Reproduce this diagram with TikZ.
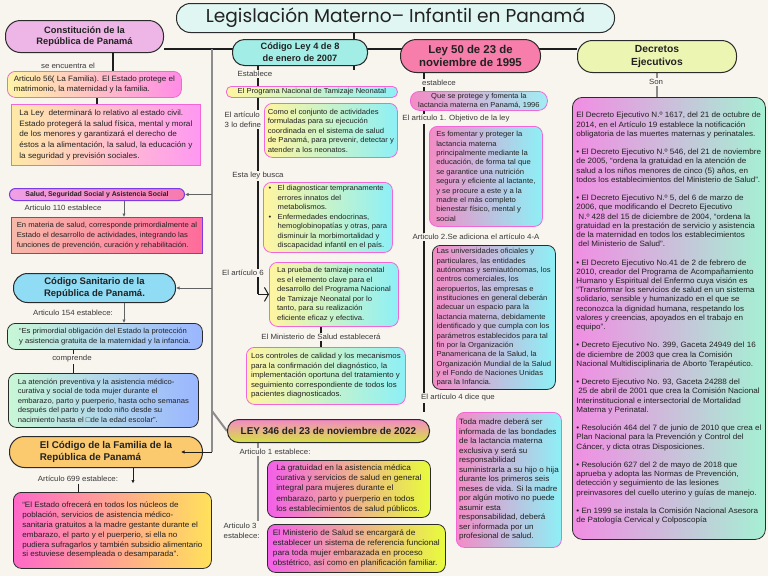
\documentclass[tikz,border=0pt]{standalone}
\usepackage{fontspec}
\setmainfont{Liberation Sans}
\newfontfamily\titulofont{Poppins}
\newfontfamily\cajafont{Liberation Sans}[FakeStretch=1.05]
\newcommand\letra[2]{\cajafont\fontsize{#1}{#2}\selectfont}
\usetikzlibrary{arrows.meta, positioning}

\definecolor{fondo}{HTML}{F8F4EE}
\definecolor{borde}{HTML}{2B2B2B}
\definecolor{texto}{HTML}{222222}
\definecolor{etiq}{HTML}{3A3A3A}
\definecolor{linea}{HTML}{1E1E1E}
\definecolor{lineagris}{HTML}{8C8C8C}
\definecolor{titulo}{HTML}{DFF6F2}
\definecolor{constitucion}{HTML}{EDB6E6}
\definecolor{codigo}{HTML}{A2EEE6}
\definecolor{leycincuenta}{HTML}{F77DAA}
\definecolor{decretos}{HTML}{EDF5B3}
\definecolor{sanitario}{HTML}{8FDCF4}
\definecolor{familia}{HTML}{FBC96E}
\definecolor{amarillo}{HTML}{FFF3A6}
\definecolor{rosa}{HTML}{FF8CE6}
\definecolor{bordeRosa}{HTML}{F266D6}
\definecolor{crema}{HTML}{FFE9A6}
\definecolor{rosaclaro}{HTML}{FF98F2}
\definecolor{lila}{HTML}{F0A0E6}
\definecolor{rosafuerte}{HTML}{F77AAE}
\definecolor{violeta}{HTML}{7A3CE6}
\definecolor{durazno}{HTML}{F7B9A9}
\definecolor{frambuesa}{HTML}{FF6B9B}
\definecolor{menta}{HTML}{C8F7D6}
\definecolor{celeste}{HTML}{9AB6FF}
\definecolor{fucsia}{HTML}{FF68C8}
\definecolor{oro}{HTML}{FFE15A}
\definecolor{limon}{HTML}{FFF5A0}
\definecolor{turquesa}{HTML}{8DF0F6}
\definecolor{magenta}{HTML}{F35FE9}
\definecolor{lima}{HTML}{E8FC3C}
\definecolor{chicle}{HTML}{F38BC6}
\definecolor{aqua}{HTML}{A0EEF4}
\definecolor{orquidea}{HTML}{F28DE3}
\definecolor{verdeagua}{HTML}{A5F0D3}

\pgfdeclarelayer{capafondo}
\pgfdeclarelayer{capalineas}
\pgfsetlayers{capafondo,capalineas,main}

\begin{document}
\begin{tikzpicture}[
    x=1pt, y=-1pt,
    tema/.style={draw=borde, line width=1pt, align=center, inner sep=0pt, anchor=north west, text=texto},
    caja/.style={draw=borde, line width=0.8pt, rounded corners=8pt, align=left, inner sep=0pt, anchor=north west, text=texto, font=\letra{7.3}{9.5}},
    etiqueta/.style={fill=fondo, inner sep=1.5pt, text=etiq, align=left, font=\letra{7.5}{10}},
    negra/.style={draw=linea, line width=1.2pt},
    gris/.style={draw=lineagris, line width=2pt},
    flecha/.style={draw=linea, line width=0.9pt, -{Latex[length=3.5pt,width=3.5pt]}},
    flechagris/.style={draw=lineagris!70!black, line width=0.9pt, -{Latex[length=3.5pt,width=3.5pt]}}
]
\useasboundingbox (0,0) rectangle (768,576);
\begin{pgfonlayer}{capafondo}
  \fill[fondo] (0,0) rectangle (768,576);
\end{pgfonlayer}

% Ejes
\coordinate (barra) at (0,49);
\coordinate (ejeT) at (354,70);
\coordinate (ejeIzq) at (212,0);
\coordinate (codoLey) at (212,411);
\coordinate (ejeC) at (113,0);
\coordinate (ejeLey) at (97,0);
\coordinate (ejeB) at (124,0);
\coordinate (ejeComp) at (73,0);
\coordinate (eje699) at (133,0);
\coordinate (ejeM) at (258,0);
\coordinate (ejeP) at (321,0);
\coordinate (ejeD) at (424,0);

% Temas
\node[tema, fill=titulo, rounded corners=14pt, minimum width=438pt, minimum height=29pt, font=\titulofont\fontsize{18.6}{20}\selectfont] (titulo) at (176,3) {Legislación Materno– Infantil en Panamá};
\node[tema, fill=constitucion, rounded corners=15pt, minimum width=158pt, minimum height=32pt, font=\bfseries\fontsize{9.3}{11}\selectfont] (constitucion) at (5,20) {Constitución de la\\República de Panamá};
\node[tema, fill=codigo, rounded corners=12pt, minimum width=135pt, minimum height=26pt, font=\bfseries\fontsize{9.2}{12}\selectfont] (codigo4) at (232,39) {Código Ley 4 de 8\\de enero de 2007};
\node[tema, fill=leycincuenta, rounded corners=16pt, minimum width=140pt, minimum height=33pt, font=\bfseries\fontsize{11.4}{13}\selectfont] (ley50) at (400,39) {Ley 50 de 23 de\\noviembre de 1995};
\node[tema, fill=decretos, rounded corners=15pt, minimum width=159pt, minimum height=32pt, font=\bfseries\fontsize{10.3}{13}\selectfont] (decretos) at (577,40) {Decretos\\Ejecutivos};

% Columna izquierda
\node[caja, left color=amarillo, right color=rosa, draw=bordeRosa, minimum width=174pt, minimum height=26pt, font=\letra{7.7}{10}] (art56) at (7,71) {Articulo 56( La Familia). El Estado protege el\\matrimonio, la maternidad y la familia.};
\node[caja, sharp corners, left color=crema, right color=rosaclaro, draw=bordeRosa, minimum width=189pt, minimum height=61pt, font=\letra{7.8}{10.8}] (laLey) at (11,104) {La Ley~ determinará lo relativo al estado civil.\\Estado protegerá la salud física, mental y moral\\de los menores y garantizará el derecho de\\éstos a la alimentación, la salud, la educación y\\la seguridad y previsión sociales.};
\node[tema, left color=lila, right color=rosafuerte, draw=violeta, rounded corners=6pt, minimum width=175pt, minimum height=12pt, font=\bfseries\fontsize{6.9}{8}\selectfont] (salud) at (9,188) {Salud, Seguridad Social y Asistencia Social};
\node[caja, sharp corners, left color=durazno, right color=frambuesa, draw=violeta, minimum width=191pt, minimum height=36pt, font=\letra{7.3}{10}] (materia) at (11,217) {En materia de salud, corresponde primordialmente al\\Estado el desarrollo de actividades, integrando las\\funciones de prevención, curación y rehabilitación.};
\node[tema, fill=sanitario, rounded corners=14pt, minimum width=162pt, minimum height=29pt, font=\bfseries\fontsize{9.5}{12}\selectfont] (sanitario) at (13,273) {Código Sanitario de la\\República de Panamá.};
\node[caja, left color=menta, right color=celeste, minimum width=195pt, minimum height=26pt] (primordial) at (7,323) {“Es primordial obligación del Estado la protección\\y asistencia gratuita de la maternidad y la infancia.};
\node[caja, left color=menta, right color=celeste, minimum width=190pt, minimum height=54pt] (atencion) at (8,373) {La atención preventiva y la asistencia médico-\\curativa y social de toda mujer durante el\\embarazo, parto y puerperio, hasta ocho semanas\\después del parto y de todo niño desde su\\nacimiento hasta el □de la edad escolar”.};
\node[tema, fill=familia, rounded corners=15pt, minimum width=193pt, minimum height=31pt, align=left, font=\bfseries\fontsize{9.8}{12}\selectfont] (familia) at (9,436) {El Código de la Familia de la\\República de Panamá};
\node[caja, left color=fucsia, right color=oro, minimum width=198pt, minimum height=76pt, font=\letra{7.7}{9.8}] (estado) at (13,492) {“El Estado ofrecerá en todos los núcleos de\\población, servicios de asistencia médico-\\sanitaria gratuitos a la madre gestante durante el\\embarazo, el parto y el puerperio, si ella no\\pudiera sufragarlos y también subsidio alimentario\\si estuviese desempleada o desamparada”.};

% Columna Ley 4
\node[tema, left color=limon, right color=turquesa, draw=bordeRosa, line width=0.8pt, rounded corners=5pt, minimum width=171pt, minimum height=11pt, font=\letra{7.2}{8}] (programa) at (226,86) {El Programa Nacional de Tamizaje Neonatal};
\node[caja, left color=limon, right color=turquesa, draw=bordeRosa, minimum width=133pt, minimum height=54pt] (como) at (264,103) {Como el conjunto de actividades\\formuladas para su ejecución\\coordinada en el sistema de salud\\de Panamá, para prevenir, detectar y\\atender a los neonatos.};
\node[caja, left color=limon, right color=turquesa, draw=bordeRosa, minimum width=129pt, minimum height=70pt] (busca) at (263,182) {\makebox[9pt][l]{•}El diagnosticar tempranamente\\\hspace*{9pt}errores innatos del\\\hspace*{9pt}metabolismos.\\\makebox[9pt][l]{•}Enfermedades endocrinas,\\\hspace*{9pt}hemoglobinopatías y otras, para\\\hspace*{9pt}disminuir la morbimortalidad y\\\hspace*{9pt}discapacidad infantil en el país.};
\node[caja, left color=limon, right color=turquesa, draw=bordeRosa, minimum width=129pt, minimum height=64pt] (prueba) at (269,262) {La prueba de tamizaje neonatal\\es el elemento clave para el\\desarrollo del Programa Nacional\\de Tamizaje Neonatal por lo\\tanto, para su realización\\eficiente eficaz y efectiva.};
\node[caja, left color=limon, right color=turquesa, draw=bordeRosa, minimum width=159pt, minimum height=57pt, font=\letra{7.5}{9.5}] (controles) at (246,347) {Los controles de calidad y los mecanismos\\para la confirmación del diagnóstico, la\\implementación oportuna del tratamiento y\\seguimiento correspondiente de todos los\\pacientes diagnosticados.};

% Ley 346
\node[tema, top color=rosafuerte!60!lila, bottom color=lima!90!black!95, rounded corners=11pt, minimum width=202pt, minimum height=23pt, font=\bfseries\fontsize{9.9}{12}\selectfont] (ley346) at (227,419) {LEY 346 del 23 de noviembre de 2022};
\node[caja, left color=magenta, right color=lima, minimum width=163pt, minimum height=57pt, font=\letra{7.9}{10.3}] (gratuidad) at (267,460) {La gratuidad en la asistencia médica\\curativa y servicios de salud en general\\integral para mujeres durante el\\embarazo, parto y puerperio en todos\\los establecimientos de salud públicos.};
\node[caja, left color=magenta, right color=lima, minimum width=178pt, minimum height=48pt, font=\letra{7.9}{10}] (ministerio) at (267,524) {El Ministerio de Salud se encargará de\\establecer un sistema de referencia funcional\\para toda mujer embarazada en proceso\\obstétrico, así como en planificación familiar.};

% Columna Ley 50
\node[tema, left color=chicle, right color=aqua, draw=bordeRosa, line width=0.8pt, rounded corners=9pt, minimum width=137pt, minimum height=19pt, font=\letra{7.2}{9}] (protege) at (410,91) {Que se protege y fomenta la\\lactancia materna en Panamá, 1996};
\node[caja, left color=chicle, right color=turquesa, draw=bordeRosa, minimum width=113pt, minimum height=100pt, font=\letra{7.3}{9.4}] (fomentar) at (429,126) {Es fomentar y proteger la\\lactancia materna\\principalmente mediante la\\educación, de forma tal que\\se garantice una nutrición\\segura y eficiente al lactante,\\y se procure a este y a la\\madre el más completo\\bienestar físico, mental y\\social};
\node[caja, left color=chicle, right color=turquesa, minimum width=123pt, minimum height=144pt, font=\letra{7.3}{9.36}] (universidades) at (432,245) {Las universidades oficiales y\\particulares, las entidades\\autónomas y semiautónomas, los\\centros comerciales, los\\aeropuertos, las empresas e\\instituciones en general deberán\\adecuar un espacio para la\\lactancia materna, debidamente\\identificado y que cumpla con los\\parámetros establecidos para tal\\fin por la Organización\\Panamericana de la Salud, la\\Organización Mundial de la Salud\\y el Fondo de Naciones Unidas\\para la Infancia.};
\node[caja, left color=chicle, right color=turquesa, draw=bordeRosa, minimum width=105pt, minimum height=135pt, font=\letra{7.7}{9.5}] (toda) at (456,412) {Toda madre deberá ser\\informada de las bondades\\de la lactancia materna\\exclusiva y será su\\responsabilidad\\suministrarla a su hijo o hija\\durante los primeros seis\\meses de vida. Si la madre\\por algún motivo no puede\\asumir esta\\responsabilidad, deberá\\ser informada por un\\profesional de salud.};

% Decretos
\node[caja, left color=orquidea, right color=verdeagua, rounded corners=10pt, minimum width=193pt, minimum height=442pt, font=\letra{7.7}{9.2}] (lista) at (572,97) {El Decreto Ejecutivo N.º 1617, del 21 de octubre de\\2014, en el Artículo 19 establece la notificación\\obligatoria de las muertes maternas y perinatales.\\[9.2pt]• El Decreto Ejecutivo N.º 546, del 21 de noviembre\\de 2005, “ordena la gratuidad en la atención de\\salud a los niños menores de cinco (5) años, en\\todos los establecimientos del Ministerio de Salud”.\\[9.2pt]• El Decreto Ejecutivo N.º 5, del 6 de marzo de\\2006, que modificando el Decreto Ejecutivo\\\hspace*{2pt}N.º 428 del 15 de diciembre de 2004, “ordena la\\gratuidad en la prestación de servicio y asistencia\\de la maternidad en todos los establecimientos\\\hspace*{2pt}del Ministerio de Salud”.\\[9.2pt]• El Decreto Ejecutivo No.41 de 2 de febrero de\\2010, creador del Programa de Acompañamiento\\Humano y Espiritual del Enfermo cuya visión es\\“Transformar los servicios de salud en un sistema\\solidario, sensible y humanizado en el que se\\reconozca la dignidad humana, respetando los\\valores y creencias, apoyados en el trabajo en\\equipo”.\\[9.2pt]• Decreto Ejecutivo No. 399, Gaceta 24949 del 16\\de diciembre de 2003 que crea la Comisión\\Nacional Multidisciplinaria de Aborto Terapéutico.\\[9.2pt]• Decreto Ejecutivo No. 93, Gaceta 24288 del\\\hspace*{2pt}25 de abril de 2001 que crea la Comisión Nacional\\Interinstitucional e intersectorial de Mortalidad\\Materna y Perinatal.\\[9.2pt]• Resolución 464 del 7 de junio de 2010 que crea el\\Plan Nacional para la Prevención y Control del\\Cáncer, y dicta otras Disposiciones.\\[9.2pt]• Resolución 627 del 2 de mayo de 2018 que\\aprueba y adopta las Normas de Prevención,\\detección y seguimiento de las lesiones\\preinvasores del cuello uterino y guías de manejo.\\[9.2pt]• En 1999 se instala la Comisión Nacional Asesora\\de Patología Cervical y Colposcopía};

% Lineas detras de los nodos
\begin{pgfonlayer}{capalineas}
  \draw[negra] (titulo.south -| ejeT) -- (ejeT);
  \draw[negra] (constitucion.east |- barra) -- (decretos.west |- barra);
  \draw[gris] (barra -| ejeIzq) -- (familia -| ejeIzq);
  \draw[gris] (codoLey) -- (ley346.west);
  \draw[negra] (constitucion.south -| ejeC) -- (art56.north -| ejeC);
  \draw[negra] (art56.south -| ejeLey) -- (laLey.north -| ejeLey);
  \draw[negra, line width=1pt] (primordial.south -| ejeComp) -- (atencion.north -| ejeComp);
  \draw[negra] (codigo4.south -| ejeM) -- (prueba.west -| ejeM);
  \draw[negra] (prueba.south -| ejeP) -- (controles.north -| ejeP);
  \draw[negra] (ley50.south -| ejeD) -- (toda.north -| ejeD);
  \draw[gris, line width=2.5pt] (decretos.south) -- (decretos.south |- lista.north);
\end{pgfonlayer}

% Etiquetas
\node[etiqueta] (etqEncuentra) at (68,66) {se encuentra el};
\node[etiqueta] (etq110) at (63,208) {Articulo 110 establece};
\node[etiqueta] (etq154) at (73,313) {Articulo 154 establece:};
\node[etiqueta] (etqComprende) at (72,359) {comprende};
\node[etiqueta] (etq699) at (78,479) {Artículo 699 establece:};
\node[etiqueta] (etqEstablece) at (255,74) {Establece};
\node[etiqueta, anchor=west] (etqDefine) at (223,119.5) {El artículo\\3 lo define};
\node[etiqueta] (etqBusca) at (258,176) {Esta ley busca};
\node[etiqueta] (etqArt6) at (243,273) {El artículo 6};
\node[etiqueta] (etqMinisterio) at (321,337) {El Ministerio de Salud establecerá};
\node[etiqueta] (etqArt1) at (275,452) {Articulo 1 establece:};
\node[etiqueta, anchor=west] (etqArt3) at (222,530.5) {Articulo 3\\establece:};
\node[etiqueta] (etqLey50) at (439,83) {establece};
\node[etiqueta] (etqObjetivo) at (456,119) {El artículo 1. Objetivo de la ley};
\node[etiqueta] (etqArt2) at (476,237) {Articulo 2.Se adiciona el artículo 4-A};
\node[etiqueta] (etqArt4) at (458,398) {El artículo 4 dice que};
\node[etiqueta] (etqSon) at (656,82) {Son};

% Flechas
\draw[flechagris] (salud -| ejeIzq) -- (salud.east);
\draw[flechagris] (sanitario -| ejeIzq) -- (sanitario.east);
\draw[flecha] (familia -| ejeIzq) -- ([xshift=-22pt]familia.east);
\draw[flechagris] (salud.south -| ejeB) -- (materia.north -| ejeB);
\draw[flechagris] (sanitario.south -| ejeB) -- (primordial.north -| ejeB);
\draw[flecha] (familia.south -| eje699) -- (etq699.south -| eje699);
\draw[negra, line width=1pt] (etq699.south) -- (estado.north -| etq699.south);
\draw[negra, line width=1pt, -{Straight Barb[length=4pt,width=14pt]}] (prueba.west -| ejeM) -- (prueba.west);
\begin{pgfonlayer}{capalineas}
  \draw[gris] (ley346.south -| ejeM) -- (etqArt3.north -| ejeM);
\end{pgfonlayer}

\end{tikzpicture}
\end{document}
